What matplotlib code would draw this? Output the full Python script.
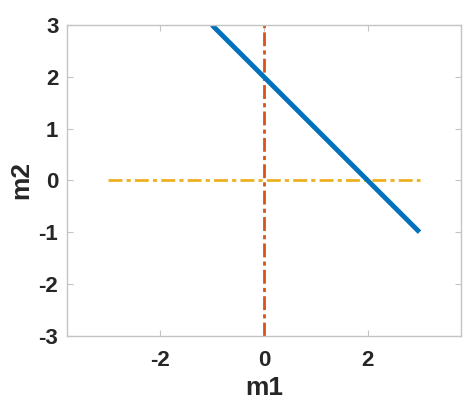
import numpy as np
import matplotlib.pyplot as plt

plt.rcParams['font.family'] = ['Liberation Sans', 'DejaVu Sans']
plt.rcParams['font.weight'] = 'bold'

# line m2 = 2 - m1, and the two axis lines
m1_line = [-1, 3]
m2_line = [3, -1]
vert_x = [0, 0]
vert_y = [-3, 3]
horiz_x = [-3, 3]
horiz_y = [0, 0]

xticks = [-2, 0, 2]
yticks = [-3, -2, -1, 0, 1, 2, 3]

fig = plt.figure(figsize=(4.74, 4.04), dpi=100)
ax = fig.add_axes([0.1407, 0.169, 0.8319, 0.769])

ax.plot(vert_x, vert_y, color='#D95319', lw=2, linestyle='-.', dashes=(5, 1.5, 1.5, 1.5))
ax.plot(horiz_x, horiz_y, color='#EDB120', lw=2, linestyle='-.', dashes=(5, 1.5, 1.5, 1.5))
ax.plot(m1_line, m2_line, color='#0072BD', lw=3.5, solid_capstyle='butt')

ax.set_xlim(-3.8, 3.8)
ax.set_ylim(-3, 3)
ax.set_xticks(xticks)
ax.set_yticks(yticks)
ax.set_xticklabels([str(t) for t in xticks])
ax.set_yticklabels([str(t) for t in yticks])

for s in ax.spines.values():
    s.set_color('#c4c4c4')
    s.set_linewidth(1)
ax.tick_params(direction='in', length=4, width=0.8, color='#c4c4c4',
               labelsize=16, labelcolor='#262626', top=True, right=True)
ax.tick_params(axis='x', pad=10)
ax.tick_params(axis='y', pad=6)

ax.set_xlabel('m1', fontsize=19, fontweight='bold', color='#262626', labelpad=4)
ax.set_ylabel('m2', fontsize=19, fontweight='bold', color='#262626', labelpad=4)

fig.savefig('out.png', dpi=100)
